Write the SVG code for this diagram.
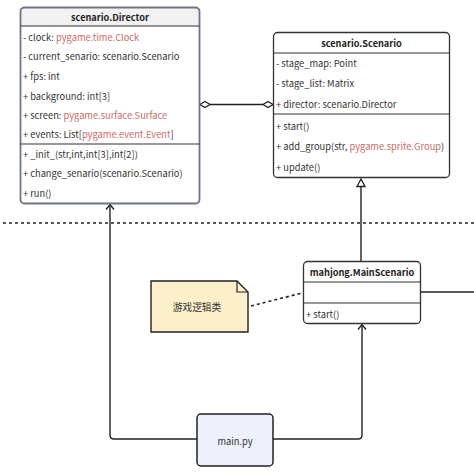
<svg xmlns="http://www.w3.org/2000/svg" width="474" height="473" viewBox="0 0 474 473">
<defs>
<style>
text{font-family:"Noto Sans CJK SC","Liberation Sans",sans-serif;font-size:9.3px;fill:#333}
.h{font-weight:bold;text-anchor:middle;fill:#222;font-size:9.2px}
.r{fill:#cc6b66}
.box{fill:#fff;stroke:#333;stroke-width:1.3}
.hd{fill:#f2f2f2}
.sep{stroke:#333;stroke-width:1.2}
.c{fill:none;stroke:#222;stroke-width:1.4}
.d{fill:none;stroke:#222;stroke-width:1.6;stroke-dasharray:3 3}
</style>
</defs>
<rect width="474" height="473" fill="#fff"/>

<g id="connectors">
<line class="d" x1="3" y1="223" x2="474" y2="223"/>
<line class="c" x1="210" y1="104.5" x2="263" y2="104.5"/>
<polygon points="200,104.5 205,101.5 210,104.5 205,107.5" fill="#fff" stroke="#222" stroke-width="1.3"/>
<polygon points="273,104.5 268,101.5 263,104.5 268,107.5" fill="#fff" stroke="#222" stroke-width="1.3"/>
<line class="c" x1="361" y1="186.5" x2="361" y2="261"/>
<polygon points="361,179 357,186.5 365,186.5" fill="#fff" stroke="#222" stroke-width="1.3"/>
<path class="c" d="M197,439 H114 Q110,439 110,435 V205"/>
<polyline class="c" points="106,209.5 110,204.5 114,209.5"/>
<path class="c" d="M273,439 H358 Q362,439 362,435 V325"/>
<polyline class="c" points="358,329.5 362,324.5 366,329.5"/>
<line class="d" x1="251" y1="306" x2="302" y2="293"/>
<line class="c" x1="420" y1="292" x2="474" y2="292"/>
</g>

<g id="director">
<rect x="20.5" y="7.5" width="179" height="196" rx="4" fill="#fff"/>
<path class="hd" d="M20.5,26 V11.5 Q20.5,7.5 24.5,7.5 H195.5 Q199.5,7.5 199.5,11.5 V26 Z"/>
<rect x="20.5" y="7.5" width="179" height="196" rx="4" fill="none" stroke="#6e7586" stroke-width="1.8"/>
<line class="sep" x1="20.5" y1="26" x2="199.5" y2="26"/>
<line class="sep" x1="20.5" y1="144" x2="199.5" y2="144"/>
<text class="h" x="110" y="20.5">scenario.Director</text>
<text x="23" y="40.5">- clock: <tspan class="r">pygame.time.Clock</tspan></text>
<text x="23" y="59.5">- current_senario: scenario.Scenario</text>
<text x="23" y="79.5">+ fps: int</text>
<text x="23" y="99.5">+ background: int[3]</text>
<text x="23" y="118.5">+ screen: <tspan class="r">pygame.surface.Surface</tspan></text>
<text x="23" y="137.5">+ events: List[<tspan class="r">pygame.event.Event</tspan>]</text>
<text x="23" y="157.5">+ _init_(str,int,int[3],int[2])</text>
<text x="23" y="176.5">+ change_senario(scenario.Scenario)</text>
<text x="23" y="196.5">+ run()</text>
</g>

<g id="scenario">
<rect x="273.5" y="32.5" width="176" height="145" rx="4" fill="#fff"/>
<path class="hd" d="M273.5,53 V36.5 Q273.5,32.5 277.5,32.5 H445.5 Q449.5,32.5 449.5,36.5 V53 Z"/>
<rect class="box" x="273.5" y="32.5" width="176" height="145" rx="4" fill="none"/>
<line class="sep" x1="273.5" y1="53" x2="449.5" y2="53"/>
<line class="sep" x1="273.5" y1="114" x2="449.5" y2="114"/>
<text class="h" x="361.5" y="46.5">scenario.Scenario</text>
<text x="276" y="66.5">- stage_map: Point</text>
<text x="276" y="86.5">- stage_list: Matrix</text>
<text x="276" y="107.5">+ director: scenario.Director</text>
<text x="276" y="129.5">+ start()</text>
<text x="276" y="149.5">+ add_group(str, <tspan class="r">pygame.sprite.Group</tspan>)</text>
<text x="276" y="170.5">+ update()</text>
</g>

<g id="mainscenario">
<rect x="303.5" y="261.5" width="117" height="62" rx="4" fill="#fff"/>
<path class="hd" d="M303.5,282 V265.5 Q303.5,261.5 307.5,261.5 H416.5 Q420.5,261.5 420.5,265.5 V282 Z"/>
<rect class="box" x="303.5" y="261.5" width="117" height="62" rx="4" fill="none"/>
<line class="sep" x1="303.5" y1="282" x2="420.5" y2="282"/>
<line class="sep" x1="303.5" y1="303" x2="420.5" y2="303"/>
<text class="h" x="362" y="275.5">mahjong.MainScenario</text>
<text x="306" y="317.5">+ start()</text>
</g>

<g id="note">
<path d="M151,281 H237 L248,292 V332 H151 Z" fill="#fcefc9" stroke="#222" stroke-width="1.4"/>
<path d="M237,281 V292 H248" fill="none" stroke="#222" stroke-width="1.2"/>
<text x="197" y="310.5" text-anchor="middle" style="font-size:9.7px">游戏逻辑类</text>
</g>

<g id="mainpy">
<rect x="197" y="414" width="76" height="52" rx="4" fill="#eef1fb" stroke="#222" stroke-width="1.5"/>
<text x="235" y="444.5" text-anchor="middle">main.py</text>
</g>
</svg>
